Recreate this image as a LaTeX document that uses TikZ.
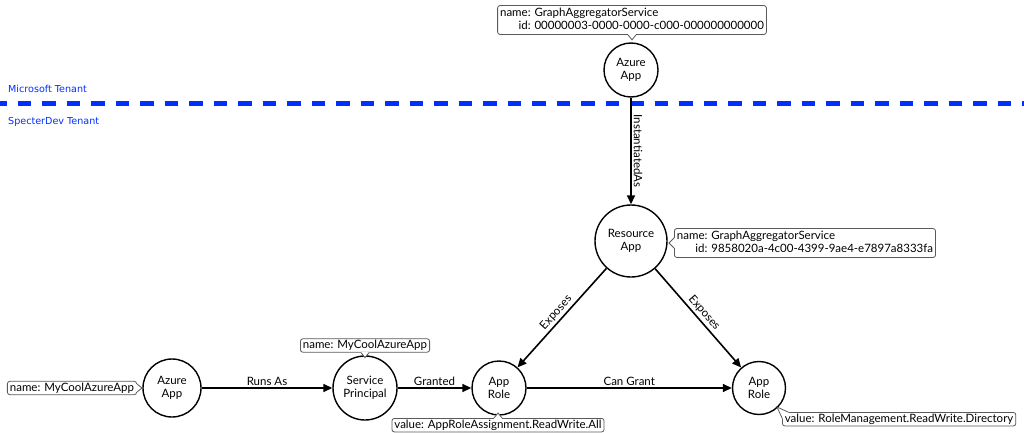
\documentclass[tikz,border=0pt]{standalone}
\usepackage{fontspec}
\setmainfont{Lato}
\newfontfamily\tenantfont{DejaVu Sans}
\usetikzlibrary{arrows.meta,calc}
\definecolor{tblue}{RGB}{0,48,255}
\definecolor{cgray}{RGB}{90,90,90}
\tikzset{
  ent/.style={circle, draw=black, line width=1.4pt, inner sep=0pt, align=center,
    font=\fontsize{11.5}{13}\selectfont},
  rel/.style={draw=black, line width=1.6pt, -{Triangle[length=9pt,width=8pt]}},
  rellabel/.style={font=\fontsize{11.5}{13}\selectfont, inner sep=2pt},
  callout/.style={draw=cgray, line width=0.8pt, rounded corners=2.5pt, fill=white,
    inner xsep=2.5pt, inner ysep=1.5pt, font=\fontsize{11.5}{13}\selectfont},
  ptrline/.style={draw=cgray, line width=0.8pt},
  tenant/.style={text=tblue, font=\tenantfont\fontsize{9.6}{11}\selectfont, anchor=west, inner sep=0pt},
  divider/.style={draw=tblue, line width=5pt, dash pattern=on 13.5pt off 11pt, dash phase=7pt}
}
\newcommand\callptr[3]{%
  \fill[white] (#1) -- (#2) -- (#3) -- cycle;
  \draw[white, line width=1.3pt] (#1) -- (#3);
  \draw[ptrline] (#1) -- (#2) -- (#3);
}
\begin{document}
\begin{tikzpicture}[x=1pt,y=-1pt]
\useasboundingbox (0,0) rectangle (1024,433);
\clip (0,0) rectangle (1024,433);

% tenant divider
\coordinate (divL) at (0,104);
\coordinate (divR) at (1024,104);
\draw[divider] (divL) -- (divR);
\node[tenant] (mt) at (8,89) {Microsoft Tenant};
\node[tenant] (st) at (8,122) {SpecterDev Tenant};

% entities
\node[ent, minimum size=54pt] (az1) at (631,70) {Azure\\App};
\node[ent, minimum size=72pt] (res) at (631,241) {Resource\\App};
\node[ent, minimum size=58pt] (az2) at (172,388) {Azure\\App};
\node[ent, minimum size=64pt] (sp) at (365,388) {Service\\Principal};
\node[ent, minimum size=54pt] (ar1) at (499,388) {App\\Role};
\node[ent, minimum size=53pt] (ar2) at (759,388) {App\\Role};

% relations
\draw[rel] (az1) -- node[rellabel, midway, rotate=-90, anchor=south] {InstantiatedAs} (res);
\draw[rel] (res) -- node[rellabel, midway, sloped, above] {Exposes} (ar1);
\draw[rel] (res) -- node[rellabel, midway, sloped, above] {Exposes} (ar2);
\draw[rel] (az2) -- node[rellabel, midway, above] {Runs As} (sp);
\draw[rel] (sp) -- node[rellabel, midway, above] {Granted} (ar1);
\draw[rel] (ar1) -- node[rellabel, midway, above] {Can Grant} (ar2);

% callouts
\node[callout] (c1) at (632,20) {\begin{tabular}{@{}r@{ }l@{}}name: & GraphAggregatorService\\ id: & 00000003-0000-0000-c000-000000000000\end{tabular}};
\callptr{$(c1.south)+(-4,0)$}{$(c1.south)+(0,5)$}{$(c1.south)+(4,0)$}

\node[callout, anchor=west] (c2) at (674,243) {\begin{tabular}{@{}r@{ }l@{}}name: & GraphAggregatorService\\ id: & 9858020a-4c00-4399-9ae4-e7897a8333fa\end{tabular}};
\callptr{$(c2.west)+(0,-5)$}{$(c2.west)+(-5,0)$}{$(c2.west)+(0,5)$}

\node[callout, anchor=east] (c3) at (137,388) {name: MyCoolAzureApp};
\callptr{$(c3.east)+(0,-4)$}{$(c3.east)+(5,0)$}{$(c3.east)+(0,4)$}

\node[callout] (c4) at (365,345.5) {name: MyCoolAzureApp};
\callptr{$(c4.south)+(-4,0)$}{$(c4.south)+(0,5)$}{$(c4.south)+(4,0)$}

\node[callout, anchor=north] (c5) at (498,418) {value: AppRoleAssignment.ReadWrite.All};
\callptr{$(c5.north)+(-4,0)$}{$(c5.north)+(0,-5)$}{$(c5.north)+(4,0)$}

\node[callout, anchor=north west] (c6) at (782,412) {value: RoleManagement.ReadWrite.Directory};
\callptr{$(c6.north west)+(0,6)$}{$(c6.north west)+(-5,-5)$}{$(c6.north west)+(6,0)$}
\end{tikzpicture}
\end{document}
